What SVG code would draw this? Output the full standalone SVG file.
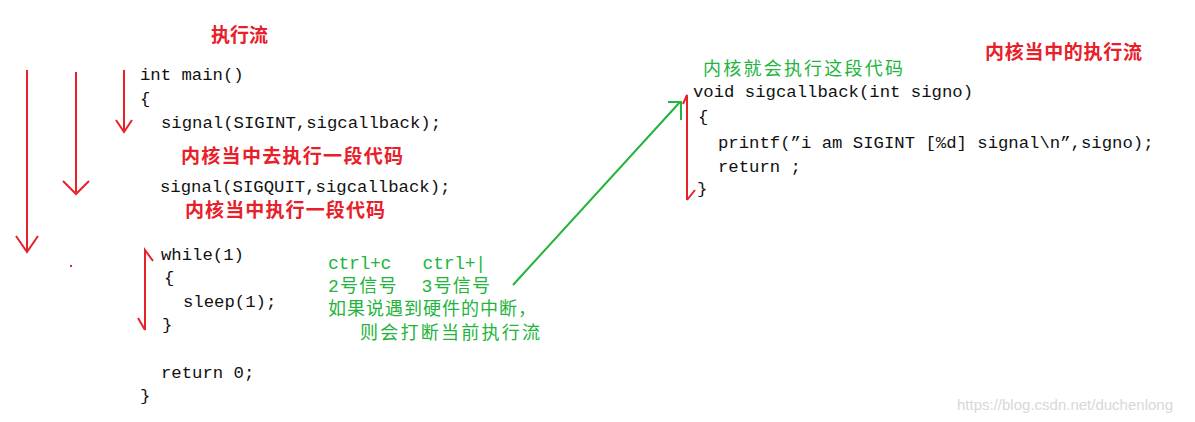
<svg xmlns="http://www.w3.org/2000/svg" width="1195" height="422" viewBox="0 0 1195 422">
<style>
.code{font-family:"Liberation Mono",monospace;font-size:17.3px;fill:#111}
.red{font-family:"Noto Sans CJK SC",sans-serif;font-size:19px;fill:#e8202a;font-weight:bold}
.green{font-family:"Liberation Mono","Noto Sans CJK SC",monospace;font-size:18px;fill:#22b43c}
.rl{stroke:#e8202a;stroke-width:2;fill:none}
.gl{stroke:#22b43c;stroke-width:2;fill:none}
</style>
<rect width="1195" height="422" fill="#fff"/>
<g id="main-code">
<text class="code" x="140" y="80">int main()</text>
<text class="code" x="140" y="104">{</text>
<text class="code" x="161" y="128">signal(SIGINT,sigcallback);</text>
<text class="code" x="160" y="192">signal(SIGQUIT,sigcallback);</text>
<text class="code" x="161" y="260">while(1)</text>
<text class="code" x="164" y="283">{</text>
<text class="code" x="183" y="307">sleep(1);</text>
<text class="code" x="162" y="330">}</text>
<text class="code" x="161" y="378">return 0;</text>
<text class="code" x="140" y="401">}</text>
</g>
<g id="labels-red">
<text class="red" x="211" y="42" font-size="18">执行流</text>
<text class="red" x="181" y="163" textLength="222">内核当中去执行一段代码</text>
<text class="red" x="185" y="217" textLength="200">内核当中执行一段代码</text>
<text class="red" x="985" y="59" textLength="157">内核当中的执行流</text>
</g>
<g id="labels-green">
<text class="green" x="328" y="269" xml:space="preserve" textLength="158">ctrl+c   ctrl+|</text>
<text class="green" x="328" y="292" xml:space="preserve" textLength="162">2号信号  3号信号</text>
<text class="green" x="328" y="315" textLength="208">如果说遇到硬件的中断，</text>
<text class="green" x="360" y="339" textLength="180">则会打断当前执行流</text>
<text class="green" x="703" y="75" textLength="200">内核就会执行这段代码</text>
</g>
<g id="callback-code">
<text class="code" x="693" y="97">void sigcallback(int signo)</text>
<text class="code" x="698" y="122">{</text>
<text class="code" x="718" y="148">printf(”i am SIGINT [%d] signal\n”,signo);</text>
<text class="code" x="718" y="172">return ;</text>
<text class="code" x="697" y="194">}</text>
</g>
<g id="connectors">
<path class="rl" d="M27 70V252M16 236L27 252L38 236"/>
<path class="rl" d="M76 72V192M63 181L76 194L89 181"/>
<path class="rl" d="M124 70V132M116 120L124 132L132 120"/>
<path class="rl" d="M145 330V250L153 261M145 330L138 318"/>
<path class="rl" d="M687 200V95L683 104M687 200L695 190"/>
<rect x="70" y="265" width="2" height="2" fill="#e8202a"/>
<path class="gl" d="M513 285L680 102M668 102H681V120"/>
</g>
<text x="957" y="410" font-family="Liberation Sans,sans-serif" font-size="15" fill="#d8d8d8">https://blog.csdn.net/duchenlong</text>
</svg>
